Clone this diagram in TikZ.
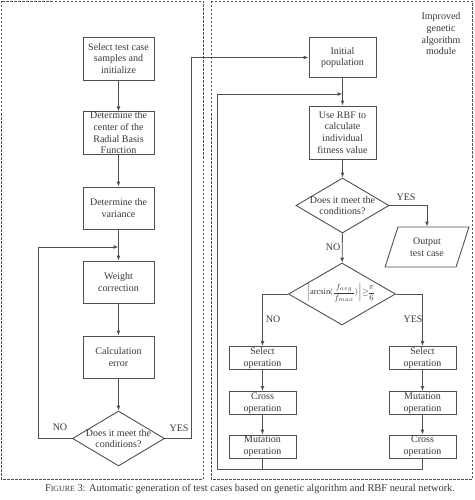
\documentclass[tikz,border=0pt]{standalone}
\usepackage{fontspec}
\setmainfont{Liberation Serif}
\usetikzlibrary{arrows.meta,shapes.geometric}
\definecolor{ln}{HTML}{505050}
\definecolor{tx}{HTML}{383838}
\tikzset{
  every node/.style={text=tx},
  txt/.style={font=\fontsize{10}{11.7}\selectfont, align=center, inner sep=0pt},
  box/.style={draw=ln, line width=0.9pt, txt, minimum width=#1},
  box/.default=71pt,
  dec/.style={draw=ln, line width=0.9pt, diamond, inner sep=0pt},
  arr/.style={draw=ln, line width=0.9pt, -{Latex[length=5pt,width=4pt]}},
  ln/.style={draw=ln, line width=0.9pt},
  dashbox/.style={draw=ln, line width=0.8pt, dash pattern=on 2.5pt off 1.5pt},
  lab/.style={font=\fontsize{10}{12}\selectfont, inner sep=0pt}
}
\begin{document}
\begin{tikzpicture}[x=1pt,y=-1pt]
\useasboundingbox (0,0) rectangle (474,500);
\draw[dashbox] (1,1) rectangle (203,479);
\draw[dashbox] (211,1) rectangle (472,479);

% left column
\node[box, minimum height=43pt] (s1) at (118.5,58.5) {Select test case\\samples and\\initialize};
\node[box, minimum height=42pt] (s2) at (118.5,133) {Determine the\\center of the\\Radial Basis\\Function};
\node[box, minimum height=42pt] (s3) at (118.5,208) {Determine the\\variance};
\node[box, minimum height=42pt] (s4) at (118.5,282) {Weight\\correction};
\node[box, minimum height=42pt] (s5) at (118.5,357) {Calculation\\error};
\node[dec, minimum width=92pt, minimum height=55pt] (d1) at (118.5,438.5) {};
\node[txt] (d1t) at (d1) {Does it meet the\\conditions?};

\draw[arr] (s1) -- (s2);
\draw[arr] (s2) -- (s3);
\draw[arr] (s3) -- (s4);
\draw[arr] (s4) -- (s5);
\draw[arr] (s5) -- (d1);

\coordinate (l1) at (38,247);
\coordinate (j1) at (118.5,247);
\draw[arr] (d1.west) -| (l1) -- (j1);
\node[lab] (no1) at (60,427) {NO};
\node[lab] (yes1) at (179,428) {YES};

% right column
\node[box=67pt, minimum height=40pt] (r1) at (342.5,57.5) {Initial\\population};
\node[box=67pt, minimum height=53pt] (r2) at (342.5,132.5) {Use RBF to\\calculate\\individual\\fitness value};
\node[dec, minimum width=93pt, minimum height=55pt] (d2) at (342.5,205.5) {};
\node[txt] (d2t) at (d2) {Does it meet the\\conditions?};
\node[draw=ln, line width=0.9pt, trapezium, trapezium left angle=68, trapezium right angle=112, trapezium stretches=true, minimum width=84pt, minimum height=40pt, txt] (out) at (427,247) {Output\\test case};
\node[dec, minimum width=107pt, minimum height=62pt] (d3) at (342,294) {};
\node[txt, font=\fontsize{8.5}{10}\selectfont] (d3t) at (341,293) {$\displaystyle\left|\mathrm{arcsin}\mkern-1mu(\frac{f_{avg}}{f_{max}})\right|\mkern-2mu{\geq}\mkern-2mu\frac{\pi}{6}$};

\coordinate (c1) at (191,0);
\draw[arr] (d1.east) -| (c1 |- r1.west) -- (r1.west);

\draw[arr] (r1) -- (r2);
\draw[arr] (r2) -- (d2);
\draw[arr] (d2.east) -| (out.north);
\node[lab] (yes2) at (406,197) {YES};
\draw[arr] (d2) -- (d3);
\node[lab] (no2) at (333,247) {NO};

\node[box=67pt, minimum height=23pt] (sl) at (262.5,358) {Select\\operation};
\node[box=67pt, minimum height=23pt] (cl) at (262.5,403) {Cross\\operation};
\node[box=67pt, minimum height=23pt] (ml) at (262.5,446.5) {Mutation\\operation};
\node[box=67pt, minimum height=23pt] (sr) at (422.5,358) {Select\\operation};
\node[box=67pt, minimum height=23pt] (mr) at (422.5,403) {Mutation\\operation};
\node[box=67pt, minimum height=23pt] (cr) at (422.5,446.5) {Cross\\operation};

\draw[arr] (d3.west) -| (sl.north);
\draw[arr] (d3.east) -| (sr.north);
\node[lab] (no3) at (273,319) {NO};
\node[lab] (yes3) at (413,319) {YES};
\draw[arr] (sl) -- (cl);
\draw[arr] (cl) -- (ml);
\draw[arr] (sr) -- (mr);
\draw[arr] (mr) -- (cr);

\coordinate (b1) at (217,469);
\coordinate (j2) at (342.5,94);
\draw[ln] (ml.south) -- (ml.south |- b1);
\draw[arr] (cr.south) |- (b1) |- (j2);

\node[txt] (mod) at (441,34) {Improved\\genetic\\algorithm\\module};

\node[lab, font=\fontsize{10.4}{12}\selectfont] (cap) at (250,489) {F{\fontsize{7.9}{9}\selectfont IGURE} 3: Automatic generation of test cases based on genetic algorithm and RBF neural network.};
\end{tikzpicture}
\end{document}
